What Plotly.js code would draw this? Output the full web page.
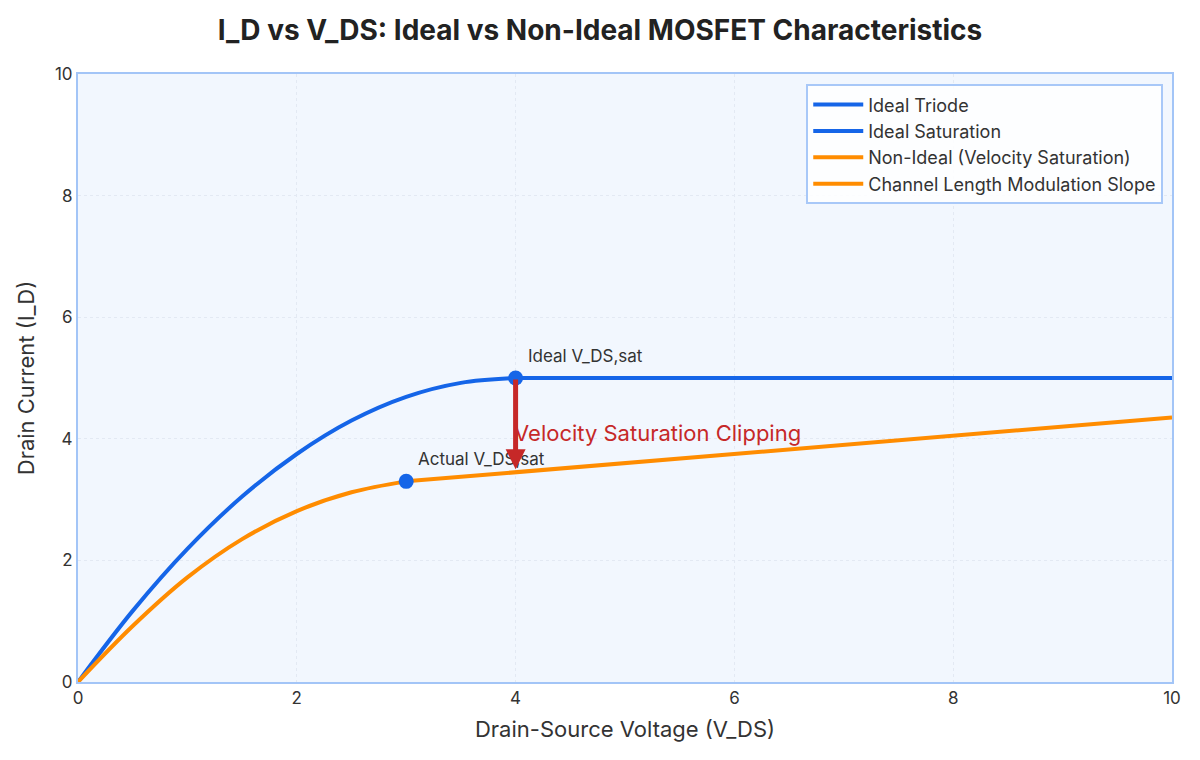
<!DOCTYPE html>
<html>
<head>
<meta charset="utf-8">
<script src="https://cdn.plot.ly/plotly-3.0.1.min.js"></script>
<style>html,body{margin:0;padding:0;background:#fff;}#chart{width:1200px;height:760px;}</style>
</head>
<body>
<div id="chart"></div>
<script>
// Ideal triode region
const triodeV = [0, 0.5, 1, 1.5, 2, 2.5, 3, 3.5, 4];
const triodeI = [0, 1.17, 2.19, 3.05, 3.75, 4.30, 4.69, 4.92, 5.0];
// Ideal saturation
const satV = [4, 10];
const satI = [5.0, 5.0];
// Non-ideal (velocity saturation)
const nonIdealV = [0, 0.5, 1, 1.5, 2, 2.5, 3];
const nonIdealI = [0, 0.92, 1.72, 2.35, 2.81, 3.12, 3.3];
// Channel length modulation slope
const clmV = [3, 10];
const clmI = [3.3, 4.35];
// Saturation points
const pointV = [4, 3];
const pointI = [5.0, 3.3];
const pointLabels = ["Ideal V_DS,sat", "Actual V_DS,sat"];
// Clipping arrow
const arrowV = 4;
const arrowFrom = 5.0;
const arrowTo = 3.5;

const blue = '#1565e8';
const orange = '#ff8c00';
const font = 'Inter, "Noto Sans", sans-serif';

const traces = [
  {x: triodeV, y: triodeI, mode: 'lines', name: 'Ideal Triode', line: {color: blue, width: 4, shape: 'spline'}},
  {x: satV, y: satI, mode: 'lines', name: 'Ideal Saturation', line: {color: blue, width: 4}},
  {x: nonIdealV, y: nonIdealI, mode: 'lines', name: 'Non-Ideal (Velocity Saturation)', line: {color: orange, width: 4, shape: 'spline'}},
  {x: clmV, y: clmI, mode: 'lines', name: 'Channel Length Modulation Slope', line: {color: orange, width: 4}},
  {x: pointV, y: pointI, mode: 'markers', showlegend: false, marker: {color: blue, size: 15}}
];

const layout = {
  width: 1200, height: 760,
  margin: {l: 78, r: 28, t: 74, b: 78},
  paper_bgcolor: '#ffffff',
  plot_bgcolor: '#f2f7fe',
  font: {family: font, color: '#333', size: 17},
  title: {text: 'I_D vs V_DS: Ideal vs Non-Ideal MOSFET Characteristics', x: 0.5, xanchor: 'center', y: 0.96, yanchor: 'middle',
          font: {family: font, size: 28, color: '#222', weight: 700}},
  xaxis: {range: [0, 10], dtick: 2, title: {text: 'Drain-Source Voltage (V_DS)', font: {size: 22, color: '#333'}, standoff: 14},
          showline: true, linecolor: '#a3c5f7', linewidth: 2, mirror: true, zeroline: false,
          gridcolor: '#e3e9f3', griddash: 'dot', gridwidth: 1, ticks: '', tickfont: {size: 17, color: '#333'}},
  yaxis: {range: [0, 10], dtick: 2, title: {text: 'Drain Current (I_D)', font: {size: 22, color: '#333'}, standoff: 14},
          showline: true, linecolor: '#a3c5f7', linewidth: 2, mirror: true, zeroline: false,
          gridcolor: '#e3e9f3', griddash: 'dot', gridwidth: 1, ticks: '', tickfont: {size: 17, color: '#333'}},
  legend: {x: 0.992, y: 0.983, xanchor: 'right', yanchor: 'top', bgcolor: 'rgba(255,255,255,0.85)',
           bordercolor: '#a8c8f8', borderwidth: 2, font: {size: 18, color: '#333'}, tracegroupgap: 0, itemwidth: 50},
  annotations: [
    {x: pointV[0], y: pointI[0], xref: 'x', yref: 'y', text: pointLabels[0], showarrow: false,
     xanchor: 'left', yanchor: 'middle', xshift: 10, yshift: 22, font: {size: 17, color: '#333'}},
    {x: pointV[1], y: pointI[1], xref: 'x', yref: 'y', text: pointLabels[1], showarrow: false,
     xanchor: 'left', yanchor: 'middle', xshift: 10, yshift: 22, font: {size: 17, color: '#333'}},
    {x: arrowV, y: arrowTo, ax: arrowV, ay: arrowFrom, xref: 'x', yref: 'y', axref: 'x', ayref: 'y',
     text: '', showarrow: true, arrowhead: 2, arrowsize: 0.8, arrowwidth: 5, arrowcolor: '#c62828', standoff: 0, startstandoff: 0},
    {x: arrowV, y: (arrowFrom + arrowTo) / 2 - 0.15, xref: 'x', yref: 'y', text: 'Velocity Saturation Clipping', showarrow: false,
     xanchor: 'left', yanchor: 'middle', xshift: -4, font: {size: 22, color: '#c62828'}}
  ]
};

Plotly.newPlot('chart', traces, layout, {displayModeBar: false});
</script>
</body>
</html>
